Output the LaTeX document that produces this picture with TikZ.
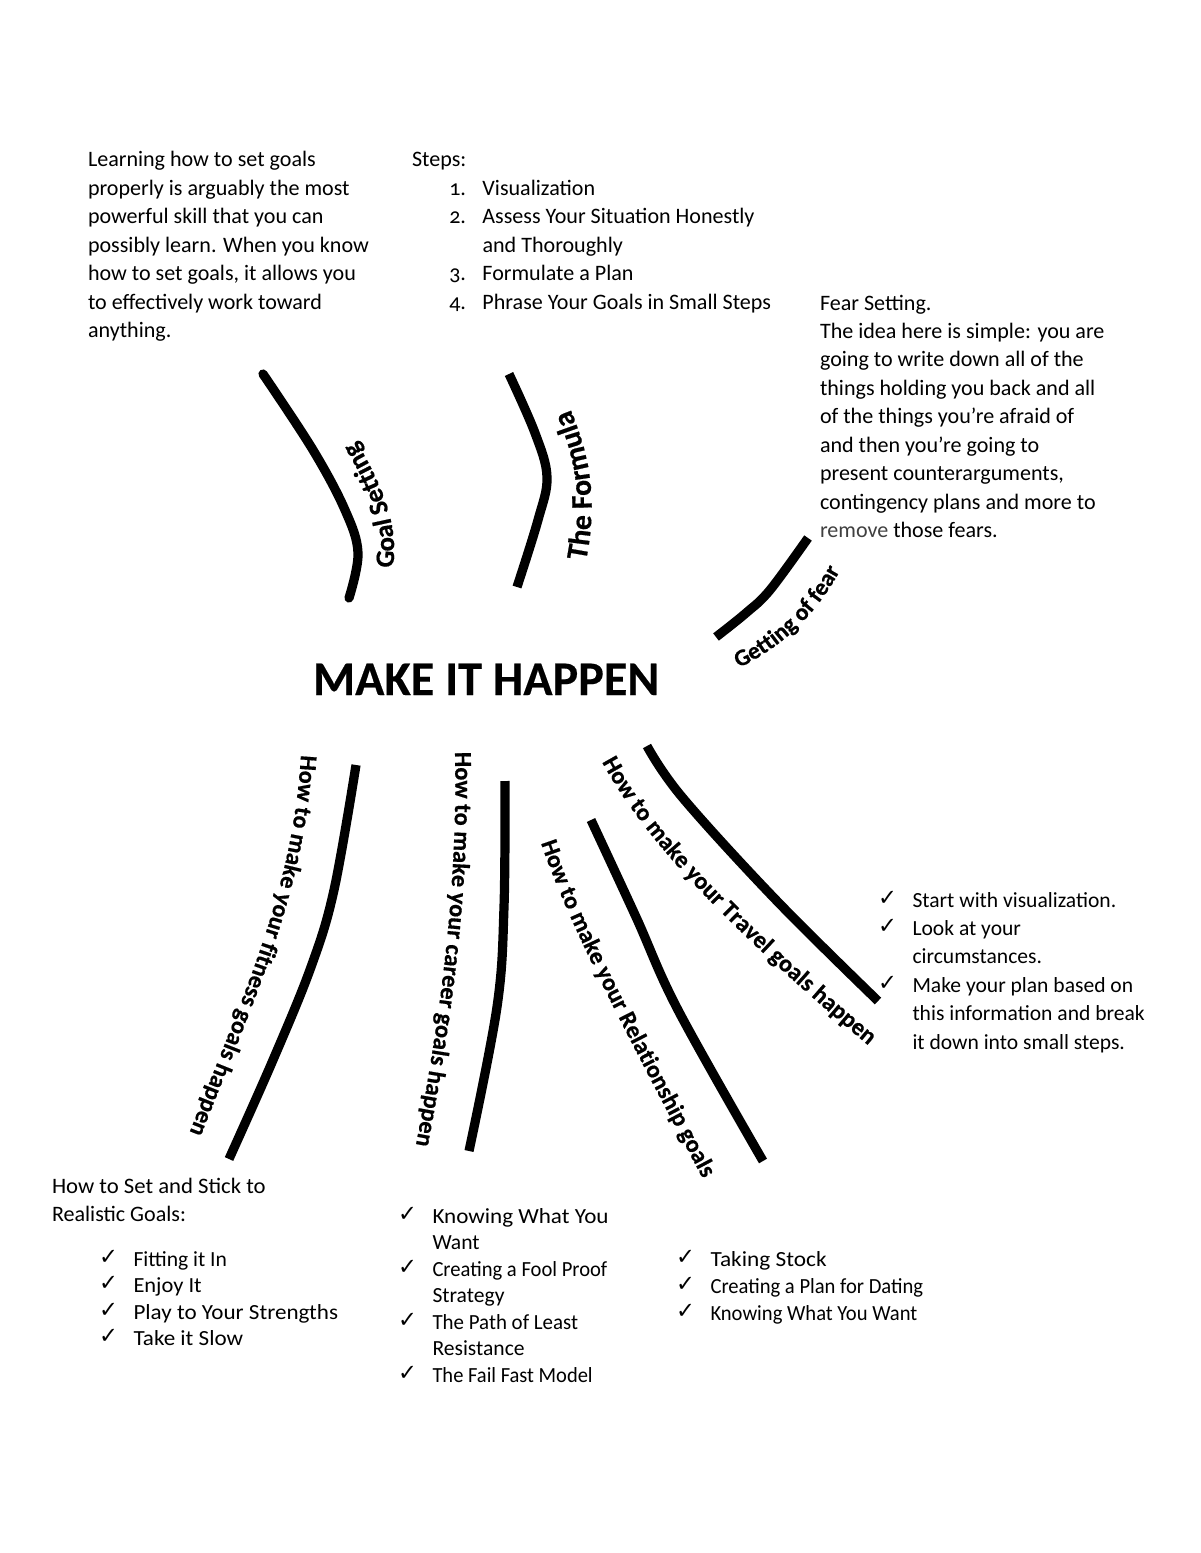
\documentclass[tikz,border=0pt]{standalone}
\usepackage{fontspec}
\setmainfont{Carlito}
\newfontfamily\ckfont{DejaVu Sans}
\newfontfamily\oldnum[Numbers=OldStyle]{Carlito}
\newfontfamily\labelfont[BoldFeatures={FakeBold=0.6}]{Carlito}
\newfontfamily\titlefont[BoldFeatures={FakeBold=0.3}]{Carlito}
\usetikzlibrary{decorations.text}
\newcommand{\ck}{\makebox[17.6pt][l]{\raisebox{1pt}{\ckfont\fontsize{11.5}{11.5}\selectfont ✓}}}
\newcommand{\nk}{\hphantom{\ck}}
\newcommand{\sx}[2]{\scalebox{#1}[1]{#2}}
\newcommand{\blocktext}[2][l]{\begin{tabular}[t]{@{}#1@{}}#2\end{tabular}}
\tikzset{
  x=0.51pt,y=-0.51pt,
  curve/.style={draw=black,line width=4.7pt,line join=round},
  curvelabel/.style 2 args={decoration={text along path,text align={left},
     text={|\labelfont\fontsize{#1}{#1}\selectfont\bfseries|#2}},decorate},
  blocknode/.style={anchor=base west,inner sep=0pt,outer sep=0pt,text=black},
  pbody/.style={blocknode,font=\fontsize{11.25}{14.5}\selectfont},
  ptravel/.style={blocknode,font=\fontsize{11}{14.5}\selectfont},
  plist/.style={blocknode,font=\fontsize{11}{13.55}\selectfont},
  plisttwo/.style={blocknode,font=\fontsize{11}{13.8}\selectfont},
}
\begin{document}
\begin{tikzpicture}
\path[use as bounding box,fill=white] (0,0) rectangle (1200,1553);

\node[pbody] (intro) at (88,167) {\blocktext{Learning how to set goals\\properly is arguably the most\\powerful skill that you can\\possibly learn. When you know\\how to set goals, it allows you\\to effectively work toward\\anything.}};
\node[pbody] (steps) at (412,167) {\blocktext{Steps:\\
\hspace{19pt}{\oldnum 1.}\hspace{8.4pt}Visualization\\
\hspace{19pt}{\oldnum 2.}\hspace{8.4pt}Assess Your Situation Honestly\\
\hspace{36pt}and Thoroughly\\
\hspace{19pt}{\oldnum 3.}\hspace{8.4pt}Formulate a Plan\\
\hspace{19pt}{\oldnum 4.}\hspace{8.4pt}Phrase Your Goals in Small Steps}};
\node[pbody] (fear) at (820,310) {\blocktext{Fear Setting.\\The idea here is simple: you are\\going to write down all of the\\things holding you back and all\\of the things you’re afraid of\\and then you’re going to\\present counterarguments,\\contingency plans and more to\\\textcolor{black!75}{remove} those fears.}};

\node[blocknode,font=\titlefont\bfseries\fontsize{24.6}{26}\selectfont] (title) at (313,695) {MAKE IT HAPPEN};

% curves
\draw[curve,line cap=round] plot[smooth,tension=0.6] coordinates {(263,374) (313,450) (345,510) (358,553) (349,598)};
\draw[curve] plot[smooth,tension=0.6] coordinates {(509,374) (535,433) (547,477) (538,520) (517,587)};
\draw[curve] plot[smooth,tension=0.6] coordinates {(808,538) (770,590) (746,613) (716,637)};
\draw[curve] plot[smooth,tension=0.6] coordinates {(356,765) (334,890) (311,967) (273,1060) (229,1159)};
\draw[curve] plot[smooth,tension=0.6] coordinates {(505,781) (504,907) (497,1007) (469,1151)};
\draw[curve] plot[smooth,tension=0.6] coordinates {(591,820) (636,917) (678,1010) (763,1161)};
\draw[curve] plot[smooth,tension=0.6] coordinates {(647,746) (682,797) (776,900) (878,1001)};

% curved labels
\path[curvelabel={13.6}{Goal Setting}] (393,568) .. controls (401,510) and (368,458) .. (330,400);
\path[curvelabel={15.2}{The Formula}] (586,561) .. controls (600,490) and (588,440) .. (552,370);
\path[curvelabel={12}{Getting of fear}] (739,668) .. controls (785,645) and (825,610) .. (855,540);
\path[curvelabel={12.3}{How to make your fitness goals happen}] (301,755) .. controls (292,900) and (240,1000) .. (175,1170);
\path[curvelabel={12.4}{How to make your career goals happen}] (455,752) .. controls (458,900) and (438,1040) .. (405,1200);
\path[curvelabel={12.3}{How to make your Relationship goals}] (541,843) .. controls (570,930) and (640,1060) .. (730,1230);
\path[curvelabel={12.3}{How to make your Travel goals happen}] (602,762) .. controls (655,860) and (770,965) .. (910,1080);

% lists
\node[pbody] (listfit) at (52,1193) {\blocktext{\sx{1.03}{How to Set and Stick to}\\Realistic Goals:}};
\node[plist] (listfittwo) at (99,1266) {\blocktext{\ck Fitting it In\\\ck \sx{1.04}{Enjoy It}\\\ck \sx{1.07}{Play to Your Strengths}\\\ck \sx{1.07}{Take it Slow}}};
\node[plist] (listcareer) at (398,1223) {\blocktext{\ck \sx{1.07}{Knowing What You}\\\nk Want\\\ck \sx{.955}{Creating a Fool Proof}\\\nk Strategy\\\ck \sx{.97}{The Path of Least}\\\nk Resistance\\\ck \sx{.95}{The Fail Fast Model}}};
\node[plisttwo] (listrel) at (676,1266) {\blocktext{\ck \sx{1.08}{Taking Stock}\\\ck \sx{.955}{Creating a Plan for Dating}\\\ck \sx{.955}{Knowing What You Want}}};
\node[ptravel] (listtravel) at (878,907) {\blocktext{\ck Start with visualization.\\\ck Look at your\\\nk circumstances.\\\ck Make your plan based on\\\nk this information and break\\\nk it down into small steps.}};
\end{tikzpicture}
\end{document}
